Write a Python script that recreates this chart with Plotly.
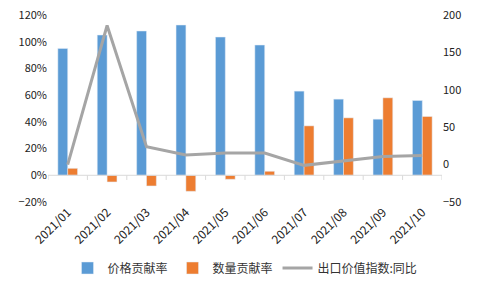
import plotly.graph_objects as go

months = ["2021/01", "2021/02", "2021/03", "2021/04", "2021/05",
          "2021/06", "2021/07", "2021/08", "2021/09", "2021/10"]
price_contrib = [95, 105, 108, 112.5, 103.5, 97.5, 63, 57, 42, 56]
qty_contrib = [5.2, -5, -8, -12, -3, 3, 37, 43, 58, 44]
export_yoy = [0, 186, 24, 13, 15.5, 15.5, -1, 4.5, 10.7, 12]

font_fam = "Noto Sans CJK SC, Noto Sans, sans-serif"

fig = go.Figure()
fig.add_trace(go.Bar(x=months, y=price_contrib, name="价格贡献率",
                     marker_color="#5B9BD5", yaxis="y"))
fig.add_trace(go.Bar(x=months, y=qty_contrib, name="数量贡献率",
                     marker_color="#ED7D31", yaxis="y"))
fig.add_trace(go.Scatter(x=months, y=export_yoy, name="出口价值指数:同比",
                         mode="lines", line=dict(color="#A5A5A5", width=3),
                         yaxis="y2"))

# zero baseline with boundary ticks
shapes = [dict(type="line", xref="paper", yref="y", x0=0, x1=1, y0=0, y1=0,
               line=dict(color="#D9D9D9", width=1))]
for i in range(len(months) + 1):
    shapes.append(dict(type="line", xref="x", yref="y", x0=i - 0.5, x1=i - 0.5,
                       y0=0, y1=-3.5, line=dict(color="#D9D9D9", width=1)))

fig.update_layout(
    width=480, height=288,
    margin=dict(l=48, r=38, t=15, b=86, autoexpand=False),
    paper_bgcolor="white", plot_bgcolor="white",
    font=dict(family=font_fam, size=11, color="#222"),
    barmode="group", bargap=0.5, bargroupgap=0,
    showlegend=True,
    legend=dict(orientation="h", x=0.5, xanchor="center",
                yref="container", y=1 - 268 / 288, yanchor="middle",
                font=dict(size=12, color="#333"), traceorder="normal"),
    xaxis=dict(type="category", tickangle=-45, showline=False, ticks="",
               showgrid=False, range=[-0.5, 9.5], tickfont=dict(size=12),
               automargin=False),
    yaxis=dict(range=[-20, 120], dtick=20, ticksuffix="%", showgrid=False,
               zeroline=False, showline=False, ticks="", automargin=False),
    yaxis2=dict(range=[-50, 200], dtick=50, overlaying="y", side="right",
                showgrid=False, zeroline=False, showline=False, ticks="",
                automargin=False),
    shapes=shapes,
)

fig.write_html("out.html")
